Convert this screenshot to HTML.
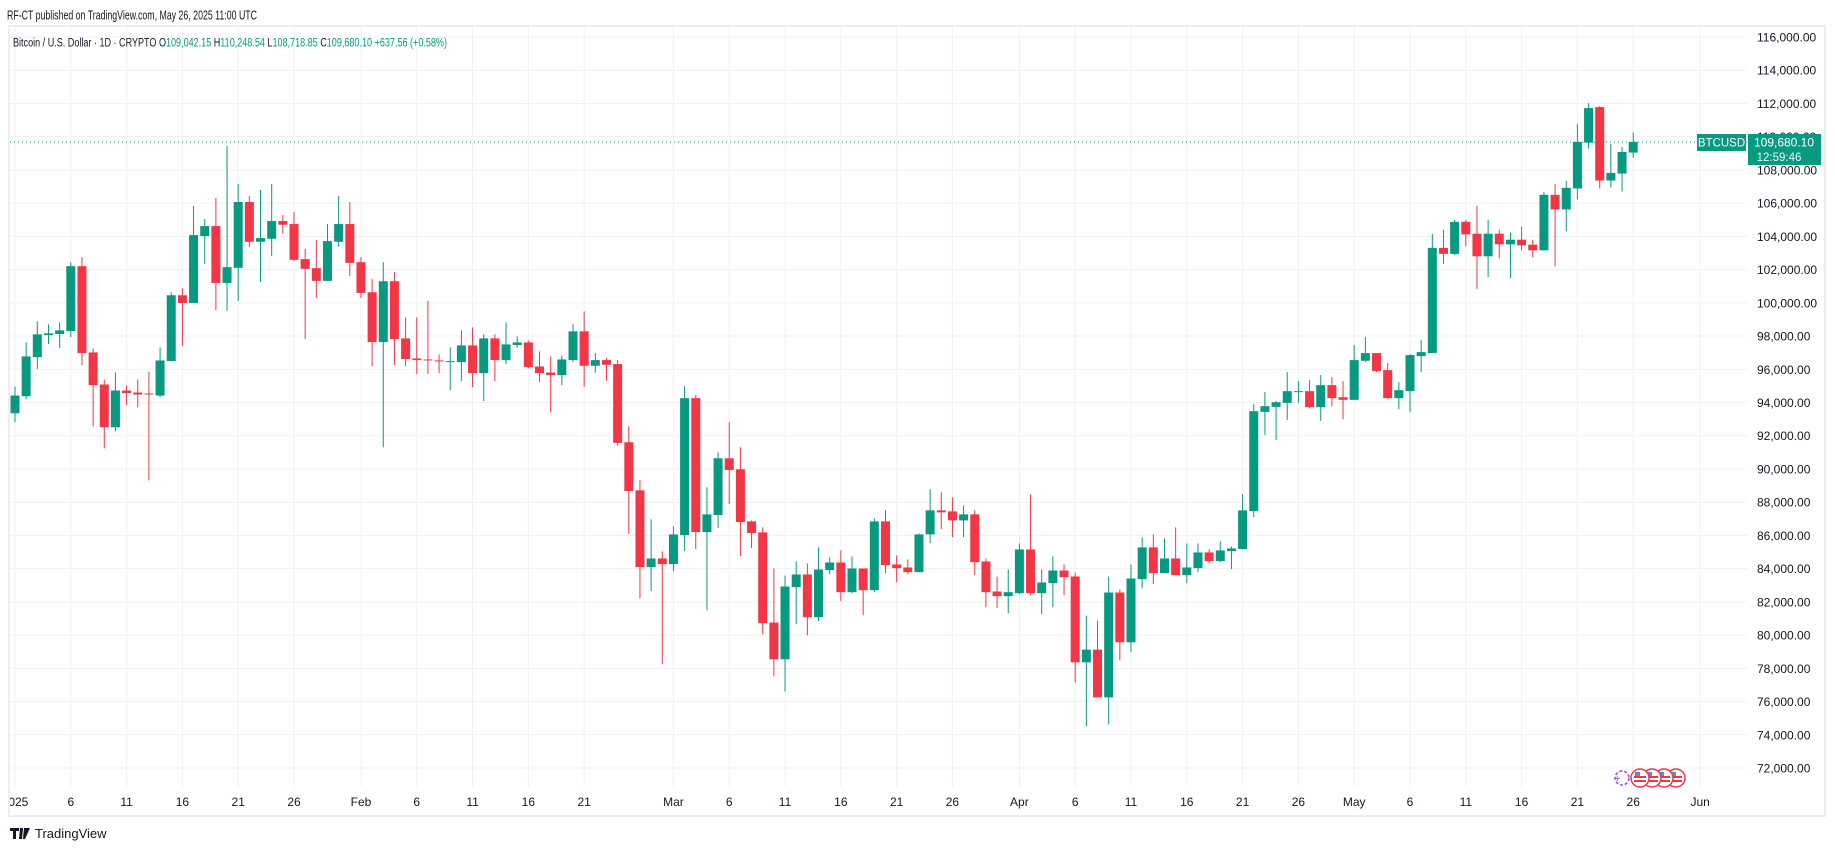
<!DOCTYPE html>
<html><head><meta charset="utf-8"><style>
body{margin:0;background:#fff;width:1835px;height:851px;overflow:hidden;font-family:"Liberation Sans",sans-serif}
svg{display:block}
</style></head><body>
<svg id="chart" width="1835" height="851" xmlns="http://www.w3.org/2000/svg">
<rect x="0" y="0" width="1835" height="851" fill="#fff"/>
<text x="7" y="19.5" font-size="12.5" fill="#131722" textLength="250" lengthAdjust="spacingAndGlyphs">RF-CT published on TradingView.com, May 26, 2025 11:00 UTC</text>
<rect x="9" y="26" width="1816" height="790" fill="none" stroke="#eceef2" stroke-width="2"/>
<defs><clipPath id="plotclip"><rect x="10" y="27" width="1737" height="760"/></clipPath>
<clipPath id="axclip"><rect x="10" y="788" width="1737" height="27"/></clipPath></defs>
<g id="grid"></g>
<g id="marks" clip-path="url(#plotclip)"></g>
<g id="yaxis"></g>
<g id="xaxis" clip-path="url(#axclip)"></g>
<text x="13" y="46.5" font-size="11.5" fill="#131722" textLength="434" lengthAdjust="spacingAndGlyphs">Bitcoin / U.S. Dollar · 1D · CRYPTO  O<tspan fill="#089981">109,042.15</tspan>  H<tspan fill="#089981">110,248.54</tspan>  L<tspan fill="#089981">108,718.85</tspan>  C<tspan fill="#089981">109,680.10</tspan>  <tspan fill="#089981">+637.56 (+0.58%)</tspan></text>
<g>
<circle cx="1622" cy="778" r="7" fill="none" stroke="#9c45e0" stroke-width="1.5" stroke-dasharray="3 2"/>
<text x="1614" y="782" font-size="11" fill="#9c45e0">+</text>
<g id="flags"></g>
</g>
<g>
<rect x="1697" y="134" width="49" height="17" fill="#089981"/>
<text x="1721.5" y="146.5" font-size="11.5" fill="#fff" text-anchor="middle">BTCUSD</text>
</g>
<g>
<rect x="1748" y="134" width="73" height="31" fill="#089981"/>
<text x="1784" y="146.5" font-size="12" fill="#fff" text-anchor="middle">109,680.10</text>
<text x="1779" y="161" font-size="11.5" fill="#e6f5f1" text-anchor="middle">12:59:46</text>
</g>
<g>
<path d="M10 828h9v3h-3v8h-3v-8h-3z M20 828h3l-1 11h-3z M24 828h6l-5 11h-2z" fill="#131722"/>
<text x="35" y="838" font-size="13" fill="#131722">TradingView</text>
</g>
</svg>
<script>
const opens=[93353,94379,96733,98061,98121,98302,102206,97014,95083,92508,94721,94600,94540,94419,96491,100455,99992,104016,104620,101199,102105,106068,103674,103855,104922,104741,102628,102085,101320,103674,104741,102447,100636,97638,101300,97859,96652,96592,96532,96431,96431,97437,95767,97859,96552,97457,97618,96170,95807,95646,96552,98282,96211,96553,96312,91608,88714,84091,84613,84272,86020,94261,86201,87226,90643,89980,86844,86181,80754,78543,82885,83649,81076,83910,84372,82583,84010,82704,86844,84251,84070,83789,86061,87508,87447,86905,87267,84433,82623,82342,82523,85156,82523,83126,83890,83528,78362,79126,76252,82563,79568,83367,85277,83729,84613,83608,84031,84975,84453,85056,85176,87467,93437,93739,93980,94643,94683,93719,95045,94322,94161,96513,96975,95950,94262,94683,96794,96975,103307,102945,104880,104160,102800,104160,103520,103800,103500,103160,106500,105620,106880,109640,111780,107360,107780,109042];
const highs=[94962,97618,98886,98705,98825,102447,102749,97256,95385,95807,95023,95385,95868,97316,100636,100877,105827,105042,106310,109449,107155,106431,106793,107155,105284,105465,103252,103775,104741,106431,106068,102749,101421,102447,101843,99127,99127,100113,96894,97316,98342,98523,98101,98101,98825,97980,97739,97075,96773,96833,98705,99489,96975,96673,96553,92573,89317,86965,85037,86543,94985,94442,88895,91005,92814,91307,86905,86483,84010,83588,84433,84312,85277,84673,85096,84734,84010,87025,87508,84794,84553,86121,88774,88593,88291,87809,87508,84613,83528,83950,85518,88473,83950,84734,84251,83769,81176,80875,83528,82744,84251,85880,86061,85820,86483,85518,85518,85156,85638,85337,88473,93900,94623,94080,95829,95287,95347,95648,95528,95287,97457,97940,96975,96372,95226,96915,97759,104151,104392,104995,105000,105840,105000,104400,104220,104580,103800,106680,107160,107340,110760,112020,111840,109560,109380,110248];
const lows=[92809,94198,96008,97517,97276,97940,96250,92568,91240,92266,93836,93715,89309,94318,96491,97397,99992,102346,99570,99509,100113,103372,101260,102829,104157,102527,97819,100294,101320,103372,101622,100294,96190,91300,96250,96190,95707,95707,95767,94741,95284,94922,94077,95284,96310,97276,96069,95224,93413,95043,96431,94945,95789,95307,91387,86081,82221,82644,78242,83850,85056,85176,81498,86443,87889,84754,85236,80051,77518,76614,80654,79990,80835,83669,82041,82523,81196,82583,83729,83186,83669,83789,85538,86382,85900,85900,83608,81679,81618,81317,82463,82402,81257,81679,82402,77156,74503,76252,74624,78483,78965,82824,83065,83729,83608,83126,83789,84332,84393,83970,85176,87106,92051,91749,92955,93980,93659,92895,93779,92995,94161,96432,95829,94201,93598,93417,95829,96975,102342,102885,103400,100820,101540,102680,101480,103160,102740,103160,102200,104300,106220,109280,106880,106940,106700,108718];
const closes=[94419,96773,98101,98161,98342,102206,96974,95043,92508,94721,94560,94480,94480,96532,100455,99992,104077,104620,101199,102145,106068,103674,103896,104922,104700,102588,102045,101320,103714,104741,102407,100596,97638,101300,97819,96612,96552,96532,96471,96491,97437,95767,97859,96552,97497,97618,96129,95767,95646,96592,98282,96211,96553,96271,91568,88674,84091,84613,84272,86061,94261,86201,87267,90643,89940,86804,86141,80714,78543,82925,83649,81076,83950,84372,82583,84010,82704,86844,84211,84030,83789,86061,87508,87387,86905,87267,84393,82583,82342,82583,85156,82523,83166,83890,83488,78362,79126,76252,82563,79568,83407,85277,83729,84613,83608,84071,84975,84453,85096,85217,87508,93477,93779,94020,94683,94683,93719,95045,94262,94161,96553,96975,95889,94262,94744,96854,97035,103307,102945,104874,104120,102800,104160,103520,103800,103460,103160,106500,105620,106920,109680,111720,107360,107820,109080,109680];
const priceTicks=[116000,114000,112000,110000,108000,106000,104000,102000,100000,98000,96000,94000,92000,90000,88000,86000,84000,82000,80000,78000,76000,74000,72000];
const dateTickDays=[0,5,10,15,20,25,31,36,41,46,51,59,64,69,74,79,84,90,95,100,105,110,115,120,125,130,135,140,145,151];
const dateTickLabels=["2025","6","11","16","21","26","Feb","6","11","16","21","Mar","6","11","16","21","26","Apr","6","11","16","21","26","May","6","11","16","21","26","Jun"];
const lastPrice=109680.1;

const NS="http://www.w3.org/2000/svg";
const xOf=d=>15+d*11.16;
const yOf=p=>37+(116000-p)*0.016614;
function mk(tag,attrs,parent){const e=document.createElementNS(NS,tag);for(const k in attrs)e.setAttribute(k,attrs[k]);parent.appendChild(e);return e;}
const grid=document.getElementById('grid'),marks=document.getElementById('marks'),yax=document.getElementById('yaxis'),xax=document.getElementById('xaxis');
priceTicks.forEach(p=>{
  const l=mk('line',{x1:10,x2:1747,y1:yOf(p),y2:yOf(p),stroke:'#f0f1f4','stroke-width':1},grid);
  
  
  const t=mk('text',{x:1757,y:yOf(p)+4.5,'font-size':12,fill:'#131722'},yax);
  t.textContent=p.toLocaleString('en-US',{minimumFractionDigits:2});
  
  
});
dateTickDays.forEach((d,i)=>{
  const l=mk('line',{x1:xOf(d),x2:xOf(d),y1:27,y2:787,stroke:'#f0f1f4','stroke-width':1},grid);
  
  
  const t=mk('text',{x:xOf(d),y:806,'font-size':12,fill:'#131722','text-anchor':'middle'},xax);
  t.textContent=dateTickLabels[i];
  
  
});
const pl=mk('line',{x1:10,x2:1747,y1:yOf(lastPrice),y2:yOf(lastPrice),stroke:'#089981','stroke-width':1,'stroke-dasharray':'1 3'},marks);


opens.forEach((o,i)=>{
  const c=closes[i],h=highs[i],l=lows[i];
  const col=c>=o?'#089981':'#F23645';
  const x=xOf(i);
  const w=mk('rect',{x:x-0.5,y:yOf(h),width:1,height:Math.max(1,yOf(l)-yOf(h)),fill:col},marks);
  
  
  const top=yOf(Math.max(o,c)),bot=yOf(Math.min(o,c));
  const b=mk('rect',{x:x-4.5,y:top,width:9,height:Math.max(1,bot-top),fill:col},marks);
  
  
});
const flags=document.getElementById('flags');
[1676,1664,1652,1640].forEach(cx=>{
  const g=mk('g',{},flags);
  
  
  mk('circle',{cx:cx,cy:778,r:9,fill:'#fff',stroke:'#F23645','stroke-width':1.5},g);
  mk('rect',{x:cx-6,y:776,width:12,height:2,fill:'#F23645'},g);
  mk('rect',{x:cx-6,y:780,width:12,height:2,fill:'#F23645'},g);
  mk('rect',{x:cx-5,y:772,width:5,height:4,fill:'#4a90e2'},g);
});
</script>
</body></html>
